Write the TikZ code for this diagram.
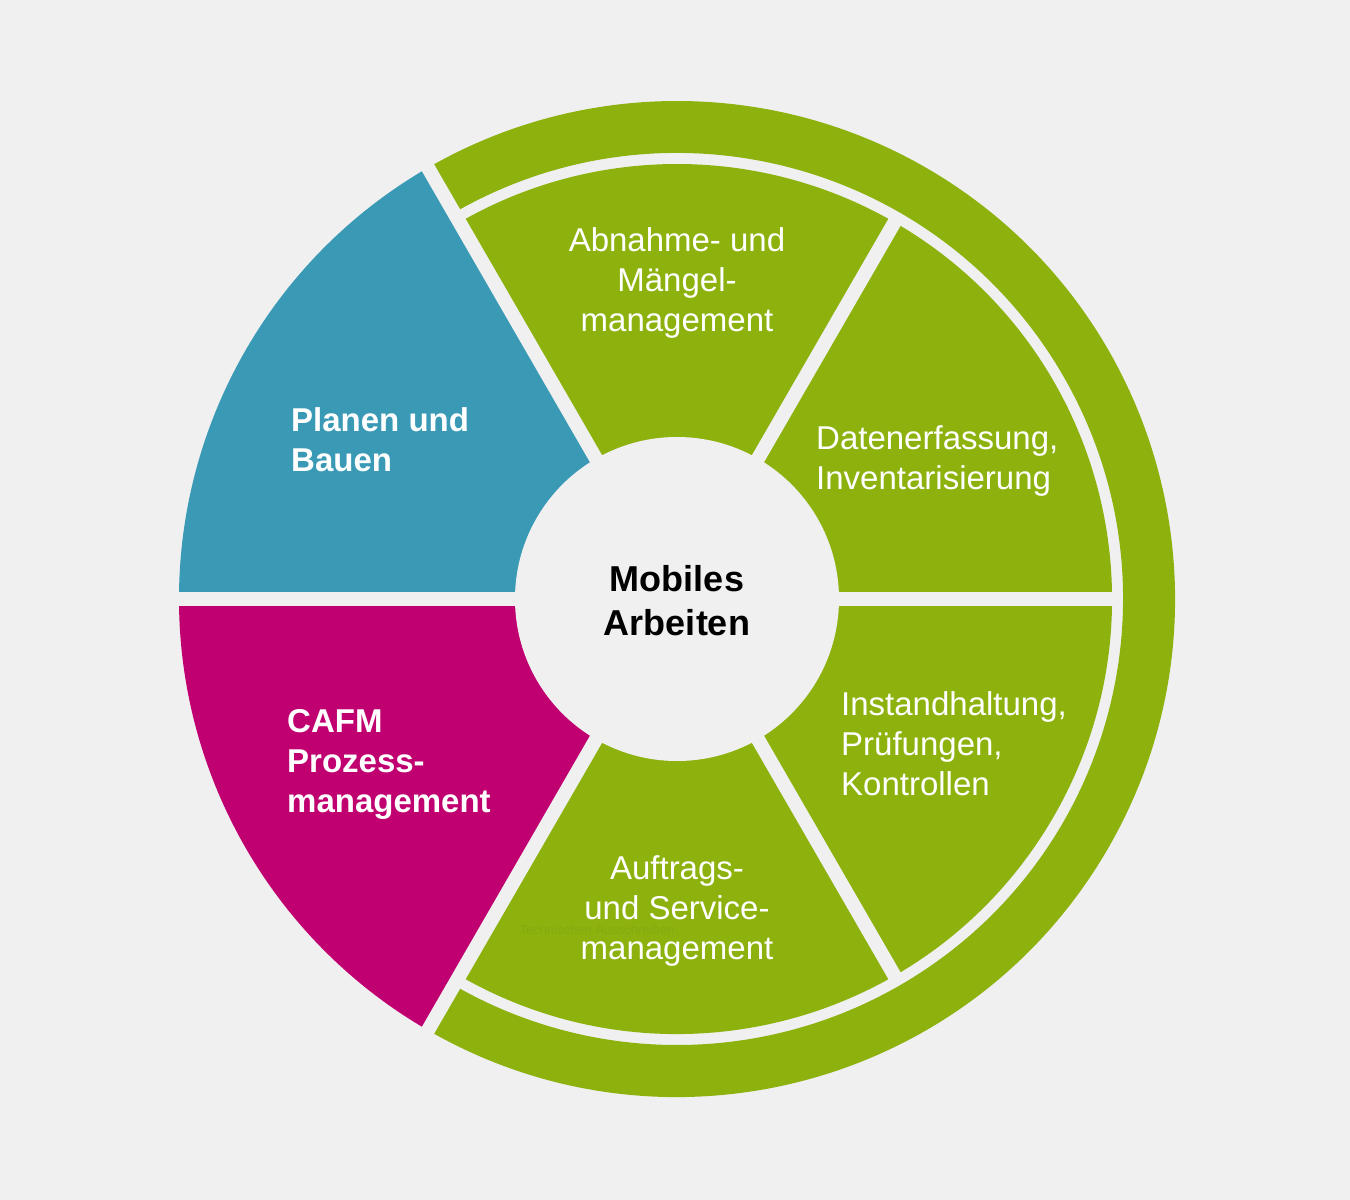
\documentclass[tikz,border=0pt]{standalone}
\usepackage{fontspec}
\setmainfont{Liberation Sans}
\definecolor{bg}{RGB}{240,240,240}
\definecolor{lgreen}{RGB}{141,178,14}
\definecolor{faintgreen}{RGB}{133,170,16}
\definecolor{lblue}{RGB}{58,154,182}
\definecolor{lmag}{RGB}{192,0,112}
\tikzset{
  seglabel/.style={text=white,inner sep=0pt,font=\fontsize{33}{40}\selectfont},
  boldlabel/.style={text=white,inner sep=0pt,font=\fontsize{33}{40}\selectfont\bfseries},
  gapline/.style={bg,line width=14pt},
}
\begin{document}
\begin{tikzpicture}[x=1pt,y=1pt]
\fill[bg] (-677,-601) rectangle (673,599);
\useasboundingbox (-677,-601) rectangle (673,599);
% outer green ring
\fill[lgreen] (-120:498) arc[start angle=-120,end angle=120,radius=498] -- (120:446) arc[start angle=120,end angle=-120,radius=446] -- cycle;
% blue and magenta sectors
\fill[lblue] (0,0) -- (120:498) arc[start angle=120,end angle=180,radius=498] -- cycle;
\fill[lmag] (0,0) -- (180:498) arc[start angle=180,end angle=240,radius=498] -- cycle;
% inner green sectors
\fill[lgreen] (0,0) -- (-120:435) arc[start angle=-120,end angle=120,radius=435] -- cycle;
% gaps
\foreach \a in {0,60,300} \draw[gapline] (0,0) -- (\a:440);
\foreach \a in {120,180,240} \draw[gapline] (0,0) -- (\a:515);
\node[circle,fill=bg,minimum size=324pt,inner sep=0pt] (hub) at (0,0) {};
% labels
\node[inner sep=0pt,align=center,font=\fontsize{36}{44}\selectfont\bfseries] (mob) at (0,-2) {Mobiles\\Arbeiten};
\node[seglabel,align=center] (abn) at (0,316) {Abnahme- und\\Mängel-\\management};
\node[seglabel,align=left,anchor=west] (dat) at (139,138) {Datenerfassung,\\Inventarisierung};
\node[seglabel,align=left,anchor=west] (ins) at (164,-145) {Instandhaltung,\\Prüfungen,\\Kontrollen};
\node[seglabel,align=center] (auf) at (0,-312) {Auftrags-\\und Service-\\management};
\node[text=faintgreen,inner sep=0pt,font=\fontsize{13}{15}\selectfont] (wm) at (-80,-331) {Technischen Ausschreiben};
\node[boldlabel,align=left,anchor=west] (pla) at (-386,159) {Planen und\\Bauen};
\node[boldlabel,align=left,anchor=west] (caf) at (-390,-165) {CAFM\\Prozess-\\management};
\end{tikzpicture}
\end{document}
